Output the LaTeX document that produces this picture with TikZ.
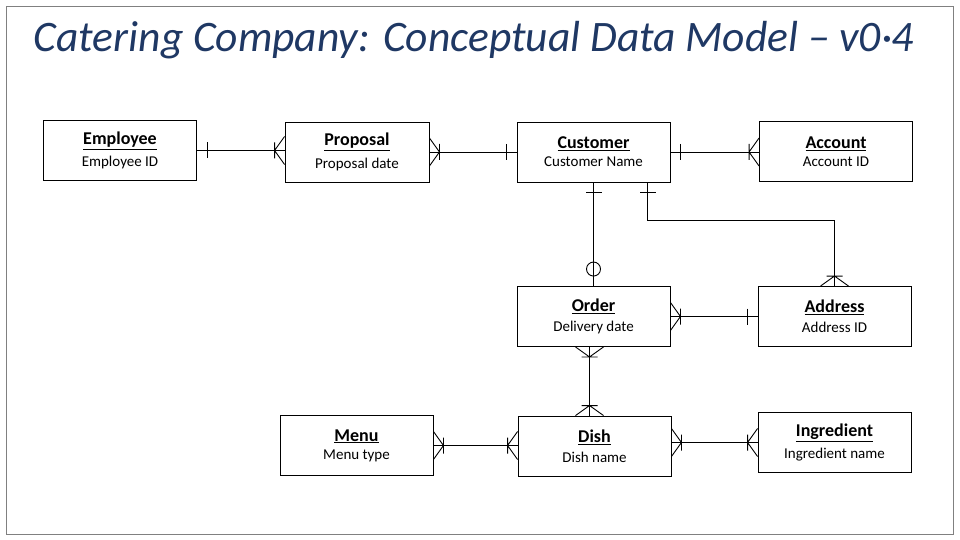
\documentclass[tikz,border=0pt]{standalone}
\usepackage{fontspec}
\setmainfont{Carlito}
\usetikzlibrary{decorations.markings}
\definecolor{titleblue}{HTML}{1F3864}
\definecolor{framegray}{HTML}{808080}

% entity box: name underlined, attribute below
\newcommand{\erbox}[2]{{\fontsize{18}{21}\selectfont\textbf{\underline{#1}}}\\[6pt]{\fontsize{15}{18}\selectfont #2}}

\tikzset{
  entity/.style={draw,line width=0.9pt,minimum width=153pt,minimum height=60pt,align=center,inner sep=0pt},
  rel/.style={line width=0.9pt},
  % crow's foot ends (one or many), single bar (one), circle (zero)
  many start/.style={postaction={decorate,decoration={markings,
      mark=at position 0 with {\draw[line width=0.9pt] (0,-14) -- (10,0) -- (0,14) (10,-8) -- (10,8);}}}},
  many end/.style={postaction={decorate,decoration={markings,
      mark=at position 1 with {\draw[line width=0.9pt] (0,-14) -- (-10,0) -- (0,14) (-10,-8) -- (-10,8);}}}},
  one start/.style={postaction={decorate,decoration={markings,
      mark=at position 0 with {\draw[line width=0.9pt] (10,-8) -- (10,8);}}}},
  one end/.style={postaction={decorate,decoration={markings,
      mark=at position 1 with {\draw[line width=0.9pt] (-10,-8) -- (-10,8);}}}},
  zero end/.style={postaction={decorate,decoration={markings,
      mark=at position 1 with {\draw[line width=0.9pt] (-17,0) circle (7);}}}},
}

\begin{document}
\begin{tikzpicture}[x=1pt,y=-1pt]
  \useasboundingbox (0,0) rectangle (960,540);
  \draw[framegray,line width=0.8pt] (6,6) rectangle (953,534);

  \node[titleblue] (title) at (474,40)
    {\fontsize{43.5}{46}\selectfont\itshape Catering Company: Conceptual Data Model -- v0·4};

  % entities
  \node[entity] (emp)  at (120,150.5)   {\erbox{Employee}{Employee ID}};
  \node[entity,minimum width=144pt] (prop) at (357,152) {\erbox{Proposal}{Proposal date}};
  \node[entity] (cust) at (593.5,152)   {\erbox{Customer}{Customer Name}};
  \node[entity] (acc)  at (836,151.5)   {\erbox{Account}{Account ID}};
  \node[entity] (ord)  at (593.5,316.5) {\erbox{Order}{Delivery date}};
  \node[entity] (addr) at (834.5,316.5) {\erbox{Address}{Address ID}};
  \node[entity] (menu) at (356.5,445.5) {\erbox{Menu}{Menu type}};
  \node[entity] (dish) at (594.5,446)   {\erbox{Dish}{Dish name}};
  \node[entity] (ingr) at (834.5,442.5) {\erbox{Ingredient}{Ingredient name}};

  % relationships
  \draw[rel,one start,many end] (emp.east) -- (emp.east -| prop.west);
  \draw[rel,many start,one end] (prop.east) -- (prop.east -| cust.west);
  \draw[rel,one start,many end] (cust.east) -- (cust.east -| acc.west);
  \draw[rel,one start,zero end] (cust.south) -- (ord.north);
  \draw[rel,one start,many end] ([xshift=54pt]cust.south) -- ++(0,38) -| (addr.north);
  \draw[rel,many start,one end] (ord.east) -- (ord.east -| addr.west);
  \draw[rel,many start,many end] ([xshift=-4pt]ord.south) -- ([xshift=-4pt]ord.south |- dish.north);
  \draw[rel,many start,many end] (menu.east) -- (menu.east -| dish.west);
  \draw[rel,many start,many end] (ingr.west -| dish.east) -- (ingr.west);
\end{tikzpicture}
\end{document}
